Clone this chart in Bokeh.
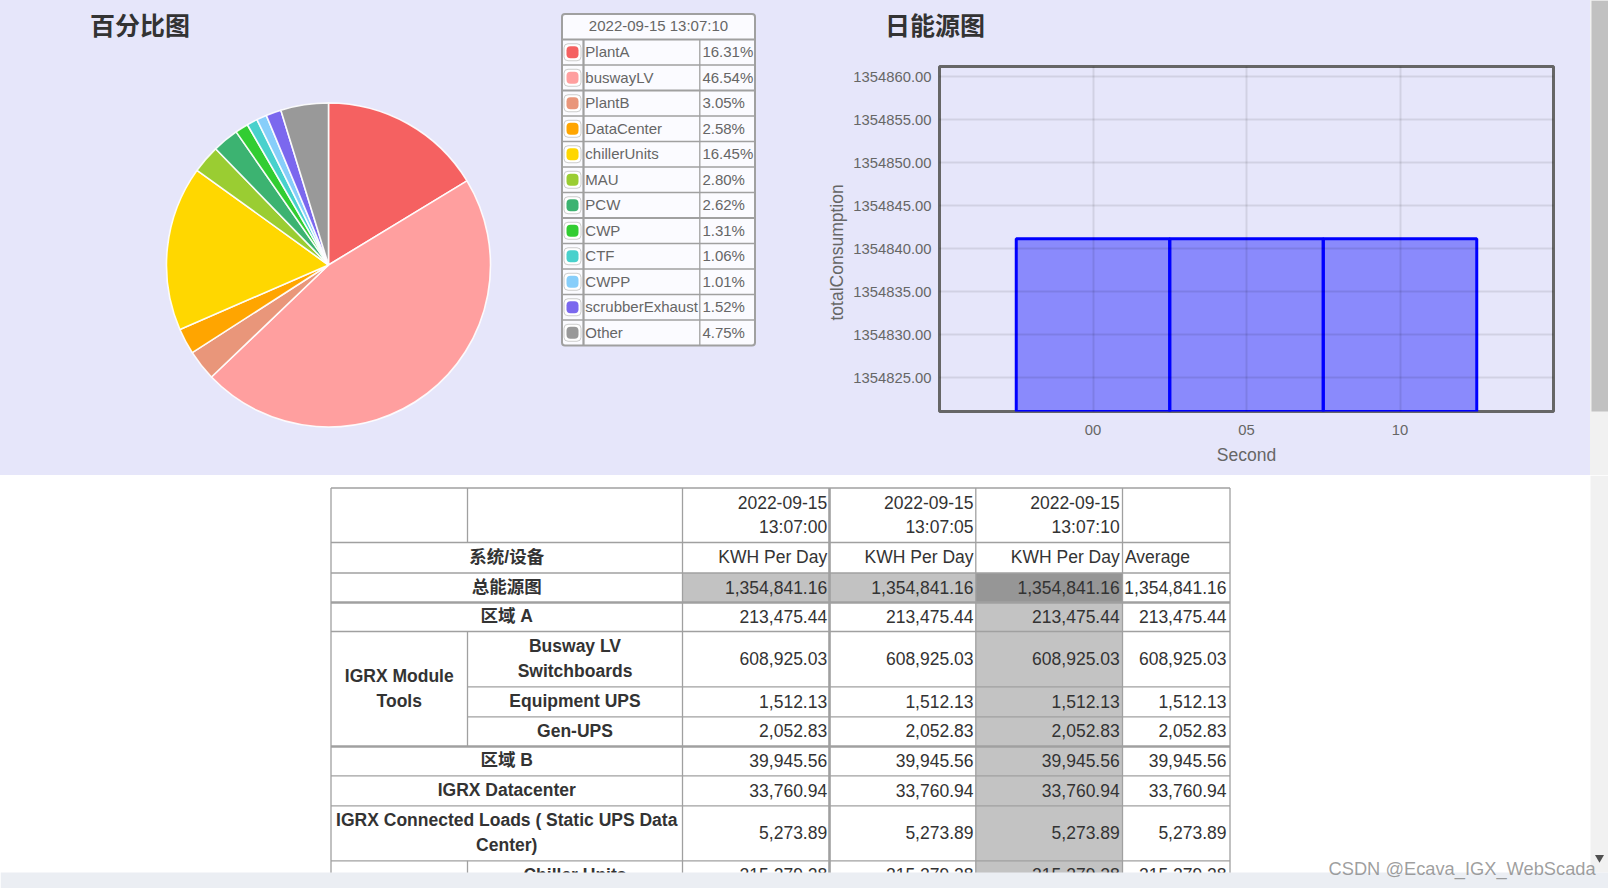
import math
from bokeh.core.properties import value
from bokeh.embed import file_html
from bokeh.resources import INLINE
from bokeh.layouts import column, row
from bokeh.models import FactorRange, FixedTicker, PrintfTickFormatter, Range1d, Title
from bokeh.plotting import figure

# ---------------- data ----------------
legend_time = "2022-09-15 13:07:10"
pie_names = ["PlantA", "buswayLV", "PlantB", "DataCenter", "chillerUnits", "MAU", "PCW", "CWP", "CTF", "CWPP", "scrubberExhaust", "Other"]
pie_values = [16.31, 46.54, 3.05, 2.58, 16.45, 2.80, 2.62, 1.31, 1.06, 1.01, 1.52, 4.75]
pie_colors = ["#f56161", "#ff9f9f", "#e9967a", "#ffa500", "#ffd700", "#9acd32", "#3cb371", "#32cd32", "#48d1cc", "#87cefa", "#7b68ee", "#999999"]

seconds = ["00", "05", "10"]
total_consumption = [1354841.16, 1354841.16, 1354841.16]
y_ticks = [1354825, 1354830, 1354835, 1354840, 1354845, 1354850, 1354855, 1354860]

table_dates = ["2022-09-15", "2022-09-15", "2022-09-15"]
table_times = ["13:07:00", "13:07:05", "13:07:10"]
table_units = ["KWH Per Day", "KWH Per Day", "KWH Per Day", "Average"]
table_values = [1354841.16, 213475.44, 608925.03, 1512.13, 2052.83, 39945.56, 33760.94, 5273.89, 215279.28]
wide_labels = [("系统/设备", 1), ("总能源图", 2), ("区域 A", 3), ("区域 B", 7), ("IGRX Datacenter", 8)]
sub_labels = [("Equipment UPS", 5), ("Gen-UPS", 6), ("Chiller Units", 10)]

# ---------------- layout ----------------
LAV = "#e6e6fa"
LATIN = "Liberation Sans, Noto Sans CJK SC"
AXISF = "Liberation Sans"
CJK = "Noto Sans CJK SC"
TXT = "#333333"
GREY = "#666666"
RULE = "#a0a0a0"


def canvas(x0, x1, y0, y1, fill):
    p = figure(width=x1 - x0, height=y1 - y0, x_range=Range1d(x0, x1), y_range=Range1d(-y1, -y0),
               output_backend="svg", toolbar_location=None, min_border=0, frame_align=False,
               x_axis_location=None, y_axis_location=None, background_fill_color=fill, border_fill_color=fill,
               styles={"background-color": fill})
    p.outline_line_color = None
    p.grid.visible = False
    return p


def put(p, x, y, t, size, color=TXT, align="left", bold=False, font=LATIN, alpha=1.0):
    p.text(x=x, y=[-v for v in y], text=t, text_font=value(font), text_font_size=size, text_color=color, text_align=align,
           text_baseline="middle", text_font_style="bold" if bold else "normal", text_alpha=alpha)


# ---- pie + legend panel ----
left = canvas(0, 820, 0, 475, LAV)
put(left, [89.5], [23], ["百分比图"], "25px", bold=True, font=CJK)
cx, cy, radius = 328, 264.5, 162
tot = sum(pie_values)
cum = [0.0]
for v in pie_values:
    cum.append(cum[-1] + v)
starts = [math.pi / 2 - 2 * math.pi * c / tot for c in cum[:-1]]
ends = [math.pi / 2 - 2 * math.pi * c / tot for c in cum[1:]]
left.wedge(x=cx, y=-cy, radius=radius, start_angle=starts, end_angle=ends, direction="clock",
           fill_color=pie_colors, line_color="#ffffff", line_width=1.6, line_alpha=0.9)

lx0, lx1, lx2, lx3 = 561.5, 583, 699.3, 754.5
ltop, lhead, lstep = 13.5, 39.0, 25.5
n = len(pie_names)
lbot = lhead + lstep * n
left.quad(left=[lx0], right=[lx3], top=[-ltop], bottom=[-lbot], fill_color="#fbfbff", line_color=RULE, line_width=2, border_radius=3)
put(left, [(lx0 + lx3) / 2], [25], [legend_time], "15px", GREY, "center")
row_y = [lhead + lstep * (i + 0.5) for i in range(n)]
text_y = [y - 0.7 for y in row_y]
edges = [lhead + lstep * i for i in range(n)]
thick = {0, 2, 7}
left.segment(x0=[lx0] * n, x1=[lx3] * n, y0=[-e for e in edges], y1=[-e for e in edges], line_color=RULE,
             line_width=[2.2 if i in thick else 1.3 for i in range(n)])
left.segment(x0=[lx1, lx2], x1=[lx1, lx2], y0=[-lhead] * 2, y1=[-lbot] * 2, line_color=RULE, line_width=[2.2, 1.3])
left.quad(left=[lx1 - 19.5] * n, right=[lx1 - 2.5] * n, top=[-y + 8.5 for y in row_y], bottom=[-y - 8.5 for y in row_y],
          fill_color="#ffffff", line_color="#cccccc", line_width=1, border_radius=4)
left.quad(left=[lx1 - 17] * n, right=[lx1 - 5] * n, top=[-y + 6 for y in row_y], bottom=[-y - 6 for y in row_y],
          fill_color=pie_colors, line_color=None, border_radius=4)
put(left, [lx1 + 1.8] * n, text_y, pie_names, "15px", GREY)
put(left, [lx2 + 2.6] * n, text_y, [f"{v:.2f}%" for v in pie_values], "15px", GREY)

# ---- title strip above the bar chart ----
STRIP = 46
strip = canvas(820, 1590, 0, STRIP, LAV)
put(strip, [884.5], [23], ["日能源图"], "25px", bold=True, font=CJK)

# ---- bar chart panel ----
bar = figure(width=770, height=475 - STRIP, x_range=FactorRange(factors=seconds, range_padding=0.5, range_padding_units="absolute"),
             y_range=Range1d(1354821.08, 1354861.2), output_backend="svg", toolbar_location=None, frame_align=False,
             background_fill_color=LAV, border_fill_color=LAV, styles={"background-color": LAV},
             min_border_left=119, min_border_right=37, min_border_top=66 - STRIP, min_border_bottom=64)
bar.vbar(x=seconds, top=total_consumption, bottom=1354800, width=1.0, fill_color="#0000ff", fill_alpha=0.4,
         line_color="#0000ff", line_width=3)
bar.outline_line_color = "#666666"
bar.outline_line_width = 3
bar.xaxis.axis_label = "Second"
bar.yaxis.ticker = FixedTicker(ticks=y_ticks)
bar.yaxis.formatter = PrintfTickFormatter(format="%.2f")
for ax in (bar.xaxis[0], bar.yaxis[0]):
    ax.axis_line_color = None
    ax.major_tick_line_color = None
    ax.minor_tick_line_color = None
    ax.major_tick_out = 0
    ax.major_tick_in = 0
    ax.minor_tick_out = 0
    ax.minor_tick_in = 0
    ax.major_label_text_color = GREY
    ax.major_label_text_font = AXISF
    ax.major_label_text_font_size = "14.8px"
    ax.axis_label_text_color = GREY
    ax.axis_label_text_font = AXISF
    ax.axis_label_text_font_size = "17.5px"
    ax.axis_label_text_font_style = "normal"
bar.yaxis.major_label_standoff = 8
bar.xaxis.major_label_standoff = 13
bar.xaxis.axis_label_standoff = 7
for g in (bar.xgrid[0], bar.ygrid[0]):
    g.grid_line_color = "#000000"
    g.grid_line_alpha = 0.09
    g.grid_line_width = 2
    g.level = "overlay"
bar.add_layout(Title(text="totalConsumption", text_font=AXISF, text_font_size="17.5px", text_color=GREY, text_font_style="normal",
                     offset=91, standoff=7, align="left"), "left")

# ---- scrollbar top ----
scroll = canvas(1590, 1608, 0, 475, "#f1f1f1")
scroll.quad(left=[1591], right=[1608], top=[0], bottom=[-411], fill_color="#c1c1c1", line_color=None)

# ---- data table ----
bottom = canvas(0, 1608, 475, 888, "#ffffff")
col = [330.5, 467, 682, 829, 975.3, 1122, 1229.5]
ry = [487.5, 542, 572.5, 602, 631, 686.3, 716.3, 746, 775.3, 805.3, 860.3, 890]
mid = [(ry[i] + ry[i + 1]) / 2 - 0.7 for i in range(len(ry) - 1)]

# column 1 and 2 totals, darker total in column 3, then the highlighted column
bottom.quad(left=col[2:4], right=col[3:5], top=[-ry[2]] * 2, bottom=[-ry[3]] * 2, fill_color="#c2c2c2", line_color=None)
bottom.quad(left=[col[4]], right=[col[5]], top=[-ry[2]], bottom=[-ry[3]], fill_color="#969696", line_color=None)
bottom.quad(left=[col[4]], right=[col[5]], top=[-ry[3]], bottom=[-890], fill_color="#c3c3c3", line_color=None)

h_thick = {3, 7}
for i, y in enumerate(ry[:-1]):
    x_start = col[1] if i in (5, 6) else col[0]
    bottom.segment(x0=[x_start], x1=[col[6]], y0=[-y], y1=[-y], line_color=RULE, line_width=2.6 if i in h_thick else 1.3)
bottom.segment(x0=[col[0]], x1=[col[0]], y0=[-ry[0]], y1=[-890], line_color=RULE, line_width=1.3)
for x, a, b in [(col[1], ry[0], ry[1]), (col[1], ry[4], ry[7]), (col[1], ry[10], 890)]:
    bottom.segment(x0=[x], x1=[x], y0=[-a], y1=[-b], line_color=RULE, line_width=1.3)
for x in col[2:]:
    bottom.segment(x0=[x], x1=[x], y0=[-ry[0]], y1=[-890], line_color=RULE, line_width=2.6 if x == col[3] else 1.3)

VAL = "17.5px"
val_right = [col[3] - 2.3, col[4] - 2.3, col[5] - 2.8]
put(bottom, val_right, [mid[0] - 12.5] * 3, table_dates, VAL, align="right")
put(bottom, val_right, [mid[0] + 12.5] * 3, table_times, VAL, align="right")
put(bottom, val_right, [mid[1]] * 3, table_units[:3], VAL, align="right")
put(bottom, [col[5] + 2.5], [mid[1]], [table_units[3]], VAL)
vrows = [2, 3, 4, 5, 6, 7, 8, 9, 10]
for x in val_right + [col[6] - 3.5]:
    put(bottom, [x] * len(vrows), [mid[r] for r in vrows], [f"{v:,.2f}" for v in table_values], VAL, align="right")

cx_all = (col[0] + col[2]) / 2
cx_sub = (col[1] + col[2]) / 2
put(bottom, [cx_all] * len(wide_labels), [mid[r] for _, r in wide_labels], [t for t, _ in wide_labels], VAL, align="center", bold=True)
put(bottom, [cx_sub] * len(sub_labels), [mid[r] for _, r in sub_labels], [t for t, _ in sub_labels], VAL, align="center", bold=True)
put(bottom, [cx_sub, cx_sub], [mid[4] - 12.5, mid[4] + 12.5], ["Busway LV", "Switchboards"], VAL, align="center", bold=True)
cx_left = (col[0] + col[1]) / 2
put(bottom, [cx_left, cx_left], [675.3, 700.3], ["IGRX Module", "Tools"], VAL, align="center", bold=True)
put(bottom, [cx_all, cx_all], [mid[9] - 12.5, mid[9] + 12.5], ["IGRX Connected Loads ( Static UPS Data", "Center)"], VAL, align="center", bold=True)

# window chrome
bottom.quad(left=[1590], right=[1608], top=[-475], bottom=[-872], fill_color="#f1f1f1", line_color=None)
bottom.quad(left=[0], right=[1608], top=[-872], bottom=[-888], fill_color="#ebeef3", line_color=None)
bottom.scatter(x=[1599], y=[-857], marker="inverted_triangle", size=9, fill_color="#505050", line_color=None)
put(bottom, [1328], [868], ["CSDN @Ecava_IGX_WebScada"], "18.3px", "#808080", alpha=0.75)

page = column(row(left, column(strip, bar, spacing=0), scroll, spacing=0), bottom, spacing=0)
open("out.html", "w").write(file_html(page, INLINE))
